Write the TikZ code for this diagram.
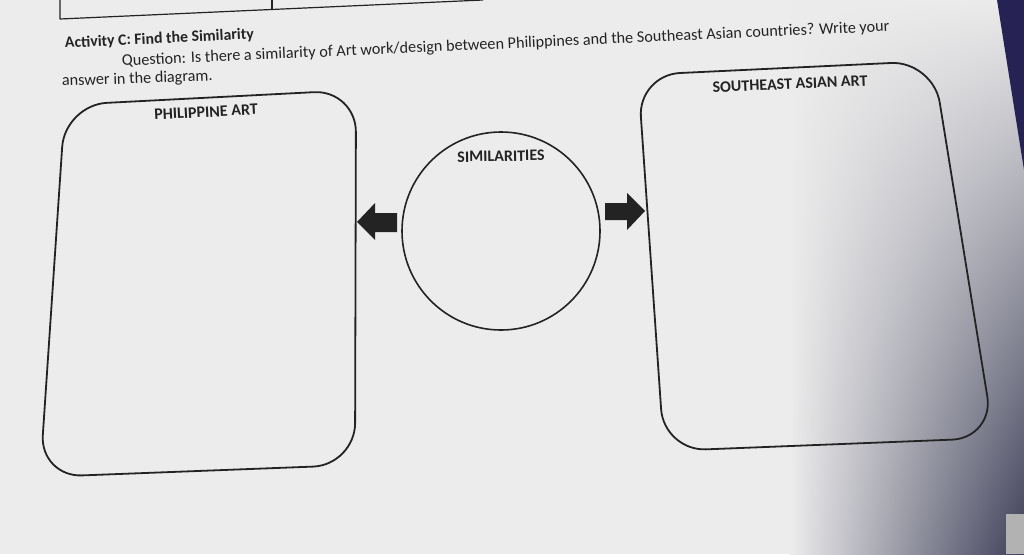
\documentclass[tikz,border=0pt]{standalone}
\usepackage{fontspec}
\setmainfont{Carlito}
\usetikzlibrary{fadings}
\definecolor{paper}{RGB}{236,236,236}
\definecolor{shadow}{RGB}{62,63,88}
\definecolor{navy}{RGB}{38,34,84}
\definecolor{ink}{RGB}{35,35,35}
\begin{document}
\begin{tikzpicture}[x=1pt,y=-1pt, line join=round,
  frame/.style={draw=ink, line width=1.8pt, rounded corners=42pt},
  head/.style={font=\fontsize{16}{18}\selectfont\bfseries, text=ink, inner sep=0pt},
  line/.style={font=\fontsize{16.2}{18}\selectfont, text=ink, inner sep=0pt, anchor=base west}]
\useasboundingbox (0,0) rectangle (1024,554);
\fill[paper] (0,0) rectangle (1024,554);
\shade[left color=paper, right color=shadow, path fading=north] (790,0) rectangle (1024,554);
\fill[navy] (997,0)--(1024,0)--(1024,170)--cycle;
\fill[gray!60] (1006,514) rectangle (1024,554);

\draw[ink, line width=1.2pt] (60,0)--(60,19)--(483,0);
\draw[ink, line width=1.2pt] (272,0)--(272,9.5);

\node[line, font=\fontsize{15.8}{18}\selectfont\bfseries, rotate=2.8] (act) at (65,48) {Activity C: Find the Similarity};
\node[line, rotate=2.6] (quest) at (122,66) {Question: Is there a similarity of Art work/design between Philippines and the Southeast Asian countries? Write your};
\node[line, rotate=2] (ans) at (62,86) {answer in the diagram.};

\draw[frame] (65,105)--(356,90)--(355,465)--(40,477)--cycle;
\draw[frame] (638,75)--(933,61)--(994,438)--(664,451)--cycle;

\foreach \nm/\px/\py/\ang/\txt in {phil/206/112/3/PHILIPPINE ART,sea/790/84/2.5/SOUTHEAST ASIAN ART}
\node[head, rotate=\ang] (\nm) at (\px,\py) {\txt};

\node[draw=ink, line width=1.6pt, circle, minimum size=198pt, inner sep=0pt] (sim) at (501,231) {};
\node[head, rotate=1] (simtxt) at ([yshift=-25pt]sim.north) {SIMILARITIES};

\fill[ink] (357,222)--(375,203)--(375,213)--(397,213)--(397,232)--(375,232)--(375,240)--cycle;
\fill[ink] (645,211)--(627,193)--(627,203)--(605,203)--(605,220)--(627,220)--(627,230)--cycle;

\end{tikzpicture}
\end{document}
